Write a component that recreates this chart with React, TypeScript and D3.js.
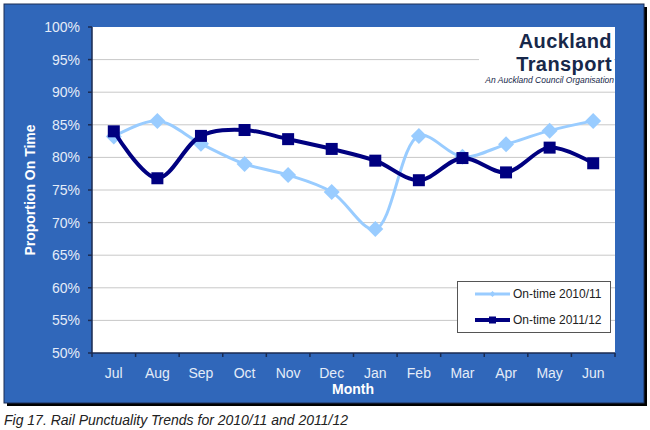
import React from 'react';
import * as d3 from 'd3';

// monthly on-time proportions (%)
const months = ['Jul', 'Aug', 'Sep', 'Oct', 'Nov', 'Dec', 'Jan', 'Feb', 'Mar', 'Apr', 'May', 'Jun'];
const onTime1011 = [83.2, 85.6, 82.1, 79.0, 77.3, 74.7, 69.0, 83.3, 80.1, 82.0, 84.1, 85.6];
const onTime1112 = [84.0, 76.8, 83.3, 84.2, 82.8, 81.3, 79.5, 76.5, 79.9, 77.7, 81.5, 79.1];
const yTicks = [50, 55, 60, 65, 70, 75, 80, 85, 90, 95, 100];

const W = 650, H = 430;
const plot = {left: 92, right: 615, top: 27, bottom: 353};
const font = 'Liberation Sans, Arial, sans-serif';

export default function App() {
    const x = d3.scaleBand().domain(months).range([plot.left, plot.right]);
    const y = d3.scaleLinear().domain([50, 100]).range([plot.bottom, plot.top]);
    const cx = (m: string) => (x(m) as number) + x.bandwidth() / 2;

    const line = d3.line<number>()
        .x((d, i) => cx(months[i]))
        .y(d => y(d))
        .curve(d3.curveCatmullRom.alpha(0.5));

    const diamond = (px: number, py: number, r: number) =>
        `M${px},${py - r}L${px + r},${py}L${px},${py + r}L${px - r},${py}Z`;

    return (
        <svg width={W} height={H} style={{position: 'absolute', left: 0, top: 0}} fontFamily={font}>
            <rect x={0} y={0} width={W} height={H} fill="white"/>
            {/* panel with shadow */}
            <rect x={7} y={7} width={640} height={399} fill="black"/>
            <rect x={4} y={4} width={640} height={399} fill="#3067BA" stroke="#1c2f55" strokeWidth={1}/>
            {/* plot area */}
            <rect x={plot.left} y={plot.top} width={plot.right - plot.left} height={plot.bottom - plot.top} fill="white"/>
            {yTicks.filter(t => t > 50 && t < 100).map(t => (
                <line key={t} x1={plot.left} x2={plot.right} y1={y(t)} y2={y(t)} stroke="#c8c8c8" strokeWidth={1}/>
            ))}
            <line x1={plot.left} x2={plot.left} y1={plot.top} y2={plot.bottom} stroke="#1a2a50" strokeWidth={1.5}/>
            <line x1={plot.left} x2={plot.right} y1={plot.bottom} y2={plot.bottom} stroke="#1a2a50" strokeWidth={1.5}/>
            {yTicks.map(t => (
                <g key={t}>
                    <line x1={plot.left - 4} x2={plot.left} y1={y(t)} y2={y(t)} stroke="#1a2a50" strokeWidth={1.5}/>
                    <text x={80} y={y(t)} dy="0.35em" textAnchor="end" fontSize={14} fill="#e4ecf8">{t}%</text>
                </g>
            ))}
            {months.map(m => (
                <g key={m}>
                    <line x1={x(m)} x2={x(m)} y1={plot.bottom} y2={plot.bottom + 4} stroke="#1a2a50" strokeWidth={1.5}/>
                    <text x={cx(m)} y={plot.bottom + 20} dy="0.35em" textAnchor="middle" fontSize={14} fill="#e4ecf8">{m}</text>
                </g>
            ))}
            <line x1={plot.right} x2={plot.right} y1={plot.bottom} y2={plot.bottom + 4} stroke="#1a2a50" strokeWidth={1.5}/>
            <text x={353} y={389} dy="0.35em" textAnchor="middle" fontSize={14} fontWeight="bold" fill="white">Month</text>
            <text transform={`translate(30,${(plot.top + plot.bottom) / 2}) rotate(-90)`} dy="0.35em" textAnchor="middle"
                  fontSize={14} fontWeight="bold" fill="white">Proportion On Time</text>

            {/* logo */}
            <rect x={479} y={28} width={135} height={60} fill="white"/>
            <text x={612} y={48} textAnchor="end" fontSize={20} fontWeight="bold" letterSpacing={0.4} fill="#17284a">Auckland</text>
            <text x={612} y={71} textAnchor="end" fontSize={20} fontWeight="bold" letterSpacing={0.4} fill="#17284a">Transport</text>
            <text x={614} y={83} textAnchor="end" fontSize={8.5} fontStyle="italic" fill="#17284a">An Auckland Council Organisation</text>

            {/* series */}
            <path d={line(onTime1011) || ''} fill="none" stroke="#99CCFF" strokeWidth={3}/>
            {onTime1011.map((v, i) => (
                <path key={i} d={diamond(cx(months[i]), y(v), 8)} fill="#99CCFF"/>
            ))}
            <path d={line(onTime1112) || ''} fill="none" stroke="#000080" strokeWidth={4}/>
            {onTime1112.map((v, i) => (
                <rect key={i} x={cx(months[i]) - 6} y={y(v) - 6} width={12} height={12} fill="#000080"/>
            ))}

            {/* legend */}
            <rect x={457.5} y={281.5} width={153} height={51} fill="white" stroke="#555" strokeWidth={1}/>
            <line x1={475} x2={510} y1={294} y2={294} stroke="#99CCFF" strokeWidth={3}/>
            <path d={diamond(492.5, 294, 3)} fill="#99CCFF"/>
            <text x={513} y={294} dy="0.35em" fontSize={12} fill="#222">On-time 2010/11</text>
            <line x1={475} x2={510} y1={320} y2={320} stroke="#000080" strokeWidth={4}/>
            <rect x={489} y={316.5} width={7} height={7} fill="#000080"/>
            <text x={513} y={320} dy="0.35em" fontSize={12} fill="#222">On-time 2011/12</text>

            <text x={4} y={425} fontSize={14} fontStyle="italic" fill="#222">Fig 17. Rail Punctuality Trends for 2010/11 and 2011/12</text>
        </svg>
    );
}
